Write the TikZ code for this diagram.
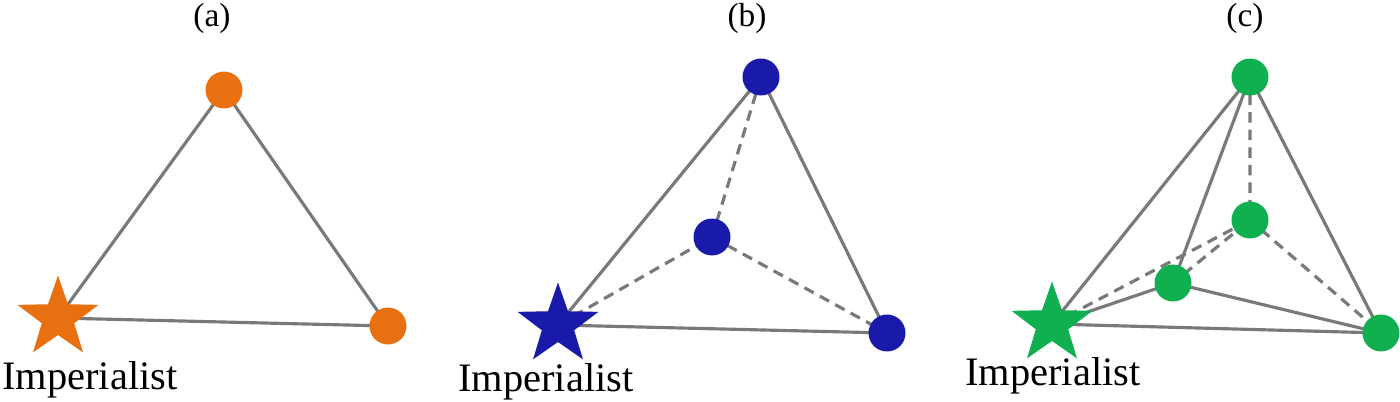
\documentclass[tikz,border=0pt]{standalone}
\usepackage{fontspec}
\setmainfont{Liberation Serif}
\usetikzlibrary{shapes.geometric,backgrounds}
\definecolor{cor}{HTML}{E87010}
\definecolor{cbl}{HTML}{1A1AAA}
\definecolor{cgr}{HTML}{10B050}
\begin{document}
\begin{tikzpicture}[x=0.02cm,y=-0.02cm,
  dot/.style={circle,inner sep=0,minimum size=0.74cm},
  st/.style={star,star points=5,star point ratio=2.5,inner sep=0,minimum size=1.7cm},
  ed/.style={draw=gray!95!black,line width=1.8pt},
  ded/.style={ed,dashed,dash pattern=on 6pt off 4pt},
  lab/.style={font=\fontsize{19}{22}\selectfont},
  imp/.style={font=\fontsize{23}{26}\selectfont,anchor=west,inner sep=0}]
\useasboundingbox (0,0) rectangle (1400,402);
% (a)
\node[lab] (la) at (212,18) {(a)};
\node[dot,fill=cor] (a1) at (224,90) {};
\node[dot,fill=cor] (a2) at (388,326) {};
\node[st,fill=cor] (a0) at (58,318) {};
\node[imp] (ia) at (2,380) {Imperialist};
% (b)
\node[lab] (lb) at (747,18) {(b)};
\node[dot,fill=cbl] (b1) at (761,77) {};
\node[dot,fill=cbl] (b2) at (712,237) {};
\node[dot,fill=cbl] (b3) at (887,333) {};
\node[st,fill=cbl] (b0) at (558,325) {};
\node[imp] (ib) at (458,382) {Imperialist};
% (c)
\node[lab] (lc) at (1245,18) {(c)};
\node[dot,fill=cgr] (c1) at (1250,77) {};
\node[dot,fill=cgr] (c2) at (1250,220) {};
\node[dot,fill=cgr] (c3) at (1173,283) {};
\node[dot,fill=cgr] (c4) at (1381,333) {};
\node[st,fill=cgr] (c0) at (1052,324) {};
\node[imp] (ic) at (965,376) {Imperialist};
\begin{pgfonlayer}{background}
\draw[ed] (a0.center)--(a1.center)--(a2.center)--(a0.center);
\draw[ed] (b0.center)--(b1.center)--(b3.center)--(b0.center);
\draw[ded] (b1.center)--(b2.center)--(b0.center);
\draw[ded] (b2.center)--(b3.center);
\draw[ed] (c0.center)--(c1.center)--(c4.center)--(c0.center);
\draw[ed] (c0.center)--(c3.center)--(c4.center);
\draw[ed] (c3.center)--(c1.center);
\draw[ded] (c1.center)--(c2.center)--(c4.center);
\draw[ded] (c0.center)--(c2.center)--(c3.center);
\end{pgfonlayer}
\end{tikzpicture}
\end{document}
